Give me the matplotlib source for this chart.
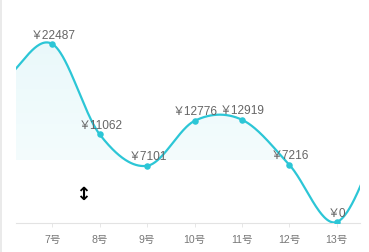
import numpy as np
import matplotlib
matplotlib.use("Agg")
import matplotlib.pyplot as plt
from matplotlib.patches import Polygon
from matplotlib.colors import LinearSegmentedColormap
import matplotlib.patheffects as pe

# ---- data ----
days = ['6号', '7号', '8号', '9号', '10号', '11号', '12号', '13号', '14号']
values = [18000, 22487, 11062, 7101, 12776, 12919, 7216, 0, 11450]
visible_days = ['7号', '8号', '9号', '10号', '11号', '12号', '13号']
fill_floor = 7830

plt.rcParams['font.family'] = ['Liberation Sans', 'Noto Sans CJK SC', 'DejaVu Sans']

W, H = 369, 253
fig = plt.figure(figsize=(W / 100, H / 100), dpi=100)
fig.patch.set_facecolor('white')
ax = fig.add_axes([16 / W, 1 - 224 / H, (360 - 16) / W, (224 - 20) / H])
ax.set_facecolor('none')

x = np.arange(len(days), dtype=float)
v = np.array(values, dtype=float)

# Catmull-Rom style smoothing
m = np.zeros_like(v)
m[1:-1] = (v[2:] - v[:-2]) / 2
m[0] = v[1] - v[0]
m[-1] = v[-1] - v[-2]
xs, ys = [], []
for i in range(len(v) - 1):
    t = np.linspace(0, 1, 60)
    h00 = 2 * t**3 - 3 * t**2 + 1
    h10 = t**3 - 2 * t**2 + t
    h01 = -2 * t**3 + 3 * t**2
    h11 = t**3 - t**2
    xs.append(x[i] + t)
    ys.append(h00 * v[i] + h10 * m[i] + h01 * v[i + 1] + h11 * m[i + 1])
xs = np.concatenate(xs)
ys = np.concatenate(ys)

ymin, ymax = -126, 25645
xlo, xhi = 0.234, 7.49
ax.set_xlim(xlo, xhi)
ax.set_ylim(ymin, ymax)

# gradient area fill
top = np.maximum(ys, fill_floor)
verts = list(zip(xs, top)) + [(xs[-1], fill_floor), (xs[0], fill_floor)]
poly = Polygon(verts, closed=True, facecolor='none', edgecolor='none')
ax.add_patch(poly)
cmap = LinearSegmentedColormap.from_list('g', ['#f4fcfd', '#e8f8fa'])
grad = np.linspace(0, 1, 256).reshape(-1, 1)
im = ax.imshow(grad, extent=[xs[0], xs[-1], fill_floor, ymax], origin='lower',
               aspect='auto', cmap=cmap, zorder=1)
im.set_clip_path(poly)

line_color = '#2cc6d6'
ax.plot(xs, ys, color=line_color, lw=1.6, zorder=3, solid_capstyle='round')

vis_idx = [days.index(d) for d in visible_days]
ax.scatter(x[vis_idx], v[vis_idx], s=22, color=line_color, zorder=4, linewidths=0)
for i in vis_idx:
    ax.annotate('￥' + str(values[i]), (x[i], v[i]), xytext=(0.5, 2.5),
                textcoords='offset points', ha='center', va='bottom',
                fontsize=8.6, color='#666666', zorder=5)

for s in ['top', 'right', 'left']:
    ax.spines[s].set_visible(False)
ax.spines['bottom'].set_color('#e3e3e3')
ax.spines['bottom'].set_linewidth(0.8)
ax.set_yticks([])
ax.set_xticks(x[vis_idx])
ax.set_xticklabels(visible_days, fontsize=7.6, color='#777777')
ax.tick_params(axis='x', length=3, width=0.6, color='#e3e3e3', pad=5)

# cursor glyph seen in the screenshot
fig.text(84 / W, 1 - 196 / H, '↕', family='DejaVu Sans', fontsize=13, fontweight='bold',
         ha='center', va='center', color='black',
         path_effects=[pe.withStroke(linewidth=2, foreground='white')])

# left border
fig.add_artist(plt.Line2D([1 / W, 1 / W], [0, 1], color='#e6e6e6', lw=1.2,
                          transform=fig.transFigure))

fig.savefig('out.png', dpi=100)
